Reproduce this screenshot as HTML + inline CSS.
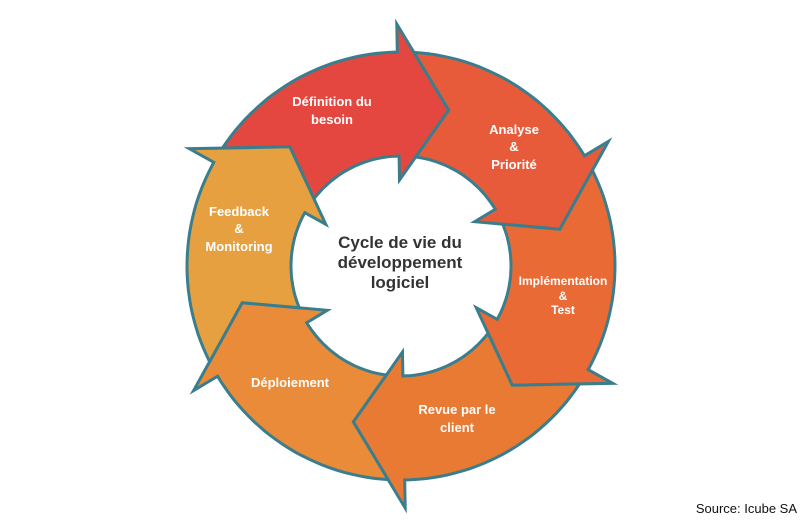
<!DOCTYPE html>
<html><head><meta charset="utf-8"><style>
html,body{margin:0;padding:0;background:#fff;width:800px;height:522px;overflow:hidden}
svg{display:block}
</style></head><body>
<svg id="s" width="800" height="522" viewBox="0 0 800 522" xmlns="http://www.w3.org/2000/svg">
<g id="g"></g>
<g font-family="Liberation Sans, Arial, sans-serif" font-weight="bold" fill="#fff" font-size="13" text-anchor="middle">
<text x="332" y="106">Définition du</text><text x="332" y="124">besoin</text>
<text x="514" y="134">Analyse</text><text x="514" y="151">&amp;</text><text x="514" y="169">Priorité</text>
<text x="563" y="285" font-size="12">Implémentation</text><text x="563" y="300" font-size="12">&amp;</text><text x="563" y="314" font-size="12">Test</text>
<text x="457" y="414">Revue par le</text><text x="457" y="432">client</text>
<text x="290" y="387">Déploiement</text>
<text x="239" y="216">Feedback</text><text x="239" y="233">&amp;</text><text x="239" y="251">Monitoring</text>
</g>
<g font-family="Liberation Sans, Arial, sans-serif" font-weight="bold" fill="#333" font-size="17" text-anchor="middle">
<text x="400" y="248">Cycle de vie du</text><text x="400" y="268">développement</text><text x="400" y="288">logiciel</text>
</g>
<text x="797" y="513" font-family="Liberation Sans, Arial, sans-serif" font-size="13" fill="#111" text-anchor="end">Source: Icube SA</text>
</svg>
<script>
(function(){
var cx=401,cy=266,ro=214,ri=110,rm=163,h=18,wo=28,wi=24;
var cols=["#e4473f","#e85b3a","#e96a35","#e97a33","#e98b38","#e6a03f"];
function Q(r,a){a=a*Math.PI/180;return [cx+r*Math.sin(a),cy-r*Math.cos(a)];}
function S(p){return p[0].toFixed(1)+","+p[1].toFixed(1);}
function P(r,a){return S(Q(r,a));}
function ang(p){return Math.atan2(p[0]-cx,-(p[1]-cy))*180/Math.PI;}
function hit(A,C,R){ // point on segment A->C at distance R from center
 var dx=C[0]-A[0],dy=C[1]-A[1],fx=A[0]-cx,fy=A[1]-cy;
 var a=dx*dx+dy*dy,b=2*(fx*dx+fy*dy),c=fx*fx+fy*fy-R*R;
 var d=Math.sqrt(Math.max(0,b*b-4*a*c));
 var t1=(-b-d)/(2*a),t2=(-b+d)/(2*a);
 var t=(t1>=0&&t1<=1)?t1:t2;
 return [A[0]+t*dx,A[1]+t*dy];
}
function norm(a,ref){while(a<ref-180)a+=360;while(a>ref+180)a-=360;return a;}
var g=document.getElementById("g"),html="";
for(var i=0;i<6;i++){
 var T=17+60*i,B=T-h,Tp=T-60,Bp=Tp-h;
 var Cp=Q(rm,Tp);
 var ho=hit(Q(ro+wo,Bp),Cp,ro), hi=hit(Q(ri-wi,Bp),Cp,ri);
 var ao=norm(ang(ho),Bp), ai=norm(ang(hi),Bp);
 var pts=[];
 pts.push(S(Cp));pts.push(S(ho));
 for(var a=ao+2;a<B;a+=2)pts.push(P(ro,a));
 pts.push(P(ro,B));pts.push(P(ro+wo,B));pts.push(P(rm,T));pts.push(P(ri-wi,B));pts.push(P(ri,B));
 for(var a=B-2;a>ai;a-=2)pts.push(P(ri,a));
 pts.push(S(hi));
 html+='<polygon points="'+pts.join(" ")+'" fill="'+cols[i]+'" stroke="#3a7e8e" stroke-width="3" stroke-linejoin="miter"/>';
}
g.innerHTML=html;
})();
</script>
</body></html>
